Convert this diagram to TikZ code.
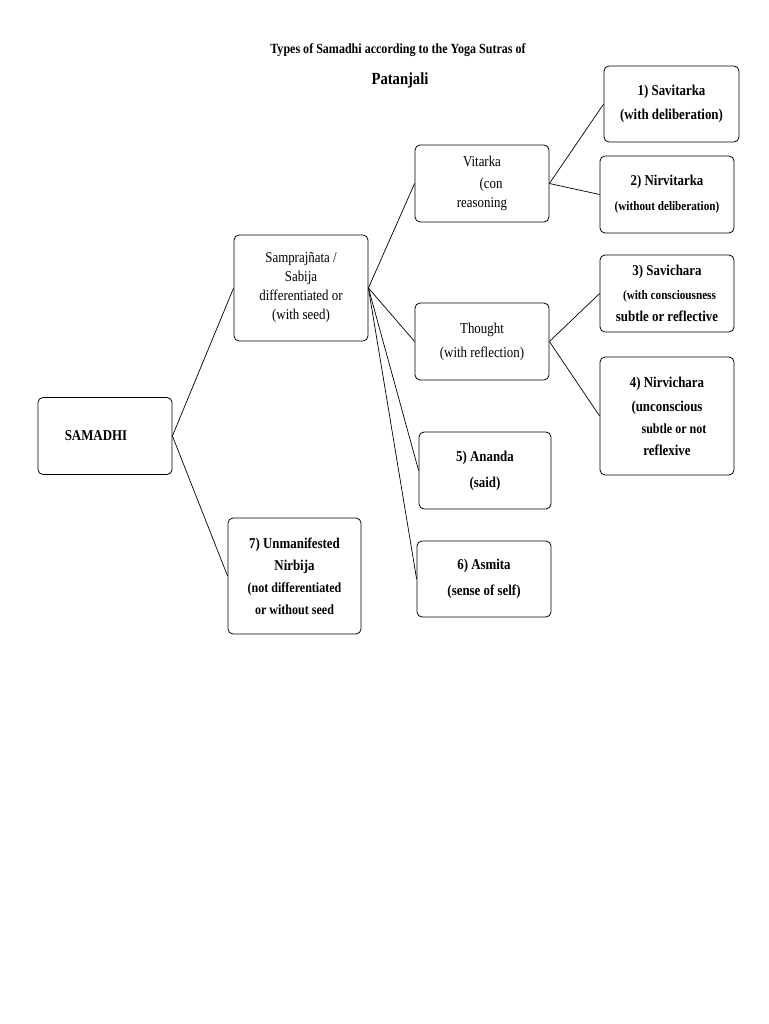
\documentclass[tikz,border=0pt]{standalone}
\usepackage{fontspec}
\setmainfont{Liberation Serif}[FakeStretch=0.86]
\usetikzlibrary{positioning}
\begin{document}
\begin{tikzpicture}[x=1pt,y=-1pt,
  box/.style={draw, rounded corners=5pt, line width=0.8pt, inner sep=0pt, align=center, font=\fontsize{15}{19}\selectfont},
  bbox/.style={box, font=\fontsize{15}{22}\bfseries\selectfont},
  link/.style={line width=0.7pt}]
\useasboundingbox (0,0) rectangle (768,1024);

% Title
\node (title) at (398,50) {\fontsize{14}{16}\bfseries\selectfont Types of Samadhi according to the Yoga Sutras of};
\node (pat) at (400,80) {\fontsize{17}{19}\bfseries\selectfont Patanjali};

% Boxes
\node[bbox, minimum width=134, minimum height=77] (samadhi) at (105,436) {SAMADHI\hspace{18pt}};
\node[box, minimum width=134, minimum height=106] (sampra) at (301,288) {Samprajñata /\\Sabija\\differentiated or\\(with seed)};
\node[bbox, minimum width=133, minimum height=116] (unman) at (294.5,576) {7) Unmanifested\\Nirbija\\\fontsize{14}{19}\selectfont(not differentiated\\\fontsize{14}{19}\selectfont or without seed};
\node[box, minimum width=134, minimum height=77] (vitarka) at (482,183.5) {Vitarka\\[3pt]\hspace{18pt}(con\\reasoning\hspace{20pt}};
\node[box, minimum width=134, minimum height=77] (thought) at (482,341.5) {Thought\\[5pt](with reflection)};
\node[bbox, minimum width=132, minimum height=77] (ananda) at (485,470.5) {5) Ananda\\[4pt](said)};
\node[bbox, minimum width=134, minimum height=76] (asmita) at (484,579) {6) Asmita\\[4pt](sense of self)};
\node[bbox, minimum width=135, minimum height=76] (savitarka) at (671.5,104) {1) Savitarka\\[2pt](with deliberation)};
\node[bbox, minimum width=134, minimum height=77] (nirvitarka) at (667,194.5) {2) Nirvitarka\\[3pt]\fontsize{13}{15}\selectfont(without deliberation)};
\node[bbox, minimum width=134, minimum height=77] (savichara) at (667,293.5) {3) Savichara\\[2pt]\fontsize{13}{15}\selectfont\hspace{5pt}(with consciousness\\subtle or reflective};
\node[bbox, minimum width=134, minimum height=118] (nirvichara) at (667,416) {4) Nirvichara\\[2pt](unconscious\hspace{14pt}\\\fontsize{14}{19}\selectfont\hspace{14pt}subtle or not\\reflexive\hspace{12pt}};

% Links
\draw[link] (samadhi.east) -- (sampra.west);
\draw[link] (samadhi.east) -- (unman.west);
\draw[link] (sampra.east) -- (vitarka.west);
\draw[link] (sampra.east) -- (thought.west);
\draw[link] (sampra.east) -- (ananda.west);
\draw[link] (sampra.east) -- (asmita.west);
\draw[link] (vitarka.east) -- (savitarka.west);
\draw[link] (vitarka.east) -- (nirvitarka.west);
\draw[link] (thought.east) -- (savichara.west);
\draw[link] (thought.east) -- (nirvichara.west);
\end{tikzpicture}
\end{document}
